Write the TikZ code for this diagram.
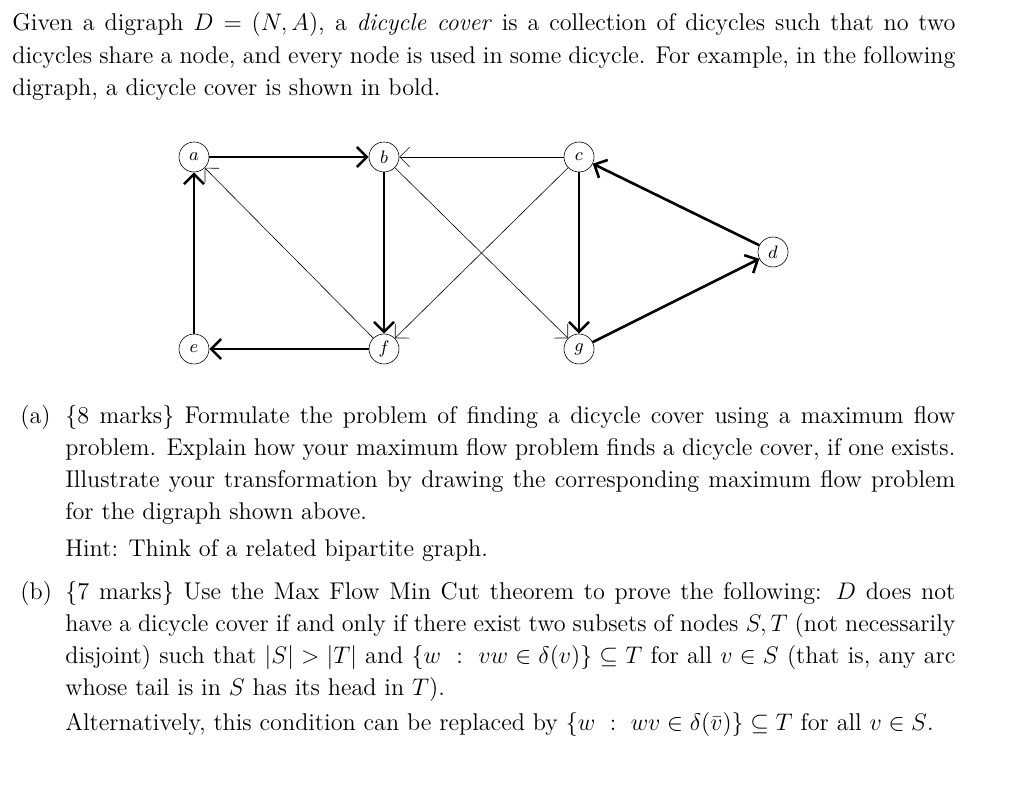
\documentclass[tikz,border=0pt]{standalone}
\usepackage{amsmath,amssymb}
\usetikzlibrary{arrows.meta}
\begin{document}
\begin{tikzpicture}[x=0.5pt,y=-0.5pt,
  vtx/.style={draw,circle,minimum size=15pt,inner sep=0pt,line width=0.3pt,font=\fontsize{9}{10}\selectfont},
  bold/.style={line width=1.3pt,-{Straight Barb[length=5pt,width=10pt]}},
  thin/.style={line width=0.3pt,-{Straight Barb[length=5pt,width=10pt]}},
  txt/.style={anchor=base west,inner sep=0pt,font=\fontsize{12.1}{14}\selectfont}]
\useasboundingbox (0,0) rectangle (1024,795);
% text
\node[txt] (t1) at (12,31) {\makebox[471.5pt][s]{Given a digraph $D=(N,A)$, a \emph{dicycle cover} is a collection of dicycles such that no two}};
\node[txt] (t2) at (12,64) {\makebox[471.5pt][s]{dicycles share a node, and every node is used in some dicycle. For example, in the following}};
\node[txt] (t3) at (12,96) {digraph, a dicycle cover is shown in bold.};
\node[txt] (a1) at (20,424) {(a)};
\node[txt] (a2) at (65,424) {\makebox[445pt][s]{\{8 marks\} Formulate the problem of finding a dicycle cover using a maximum flow}};
\node[txt] (a3) at (65,456) {\makebox[445pt][s]{problem. Explain how your maximum flow problem finds a dicycle cover, if one exists.}};
\node[txt] (a4) at (65,488) {\makebox[445pt][s]{Illustrate your transformation by drawing the corresponding maximum flow problem}};
\node[txt] (a5) at (65,520) {for the digraph shown above.};
\node[txt] (a6) at (65,557) {Hint: Think of a related bipartite graph.};
\node[txt] (b1) at (20,600) {(b)};
\node[txt] (b2) at (65,600) {\makebox[445pt][s]{\{7 marks\} Use the Max Flow Min Cut theorem to prove the following: $D$ does not}};
\node[txt] (b3) at (65,632) {\makebox[445pt][s]{have a dicycle cover if and only if there exist two subsets of nodes $S,T$ (not necessarily}};
\node[txt] (b4) at (65,664) {\makebox[445pt][s]{disjoint) such that $|S|>|T|$ and $\{w\ :\ vw\in\delta(v)\}\subseteq T$ for all $v\in S$ (that is, any arc}};
\node[txt] (b5) at (65,696) {whose tail is in $S$ has its head in $T$).};
\node[txt] (b6) at (65,731) {Alternatively, this condition can be replaced by $\{w\ :\ wv\in\delta(\bar v)\}\subseteq T$ for all $v\in S$.};
% graph
\node[vtx] (a) at (194,157) {$a$};
\node[vtx] (b) at (384,157) {$b$};
\node[vtx] (c) at (579,157) {$c$};
\node[vtx] (d) at (773,252) {$d$};
\node[vtx] (e) at (194,349) {$e$};
\node[vtx] (f) at (384,349) {$f$};
\node[vtx] (g) at (579,349) {$g$};
\draw[bold] (a) -- (b);
\draw[bold] (b) -- (f);
\draw[bold] (f) -- (e);
\draw[bold] (e) -- (a);
\draw[bold] (c) -- (g);
\draw[bold] (g) -- (d);
\draw[bold] (d) -- (c);
\draw[thin] (c) -- (b);
\draw[thin] (f) -- (a);
\draw[thin] (b) -- (g);
\draw[thin] (c) -- (f);
\end{tikzpicture}
\end{document}
